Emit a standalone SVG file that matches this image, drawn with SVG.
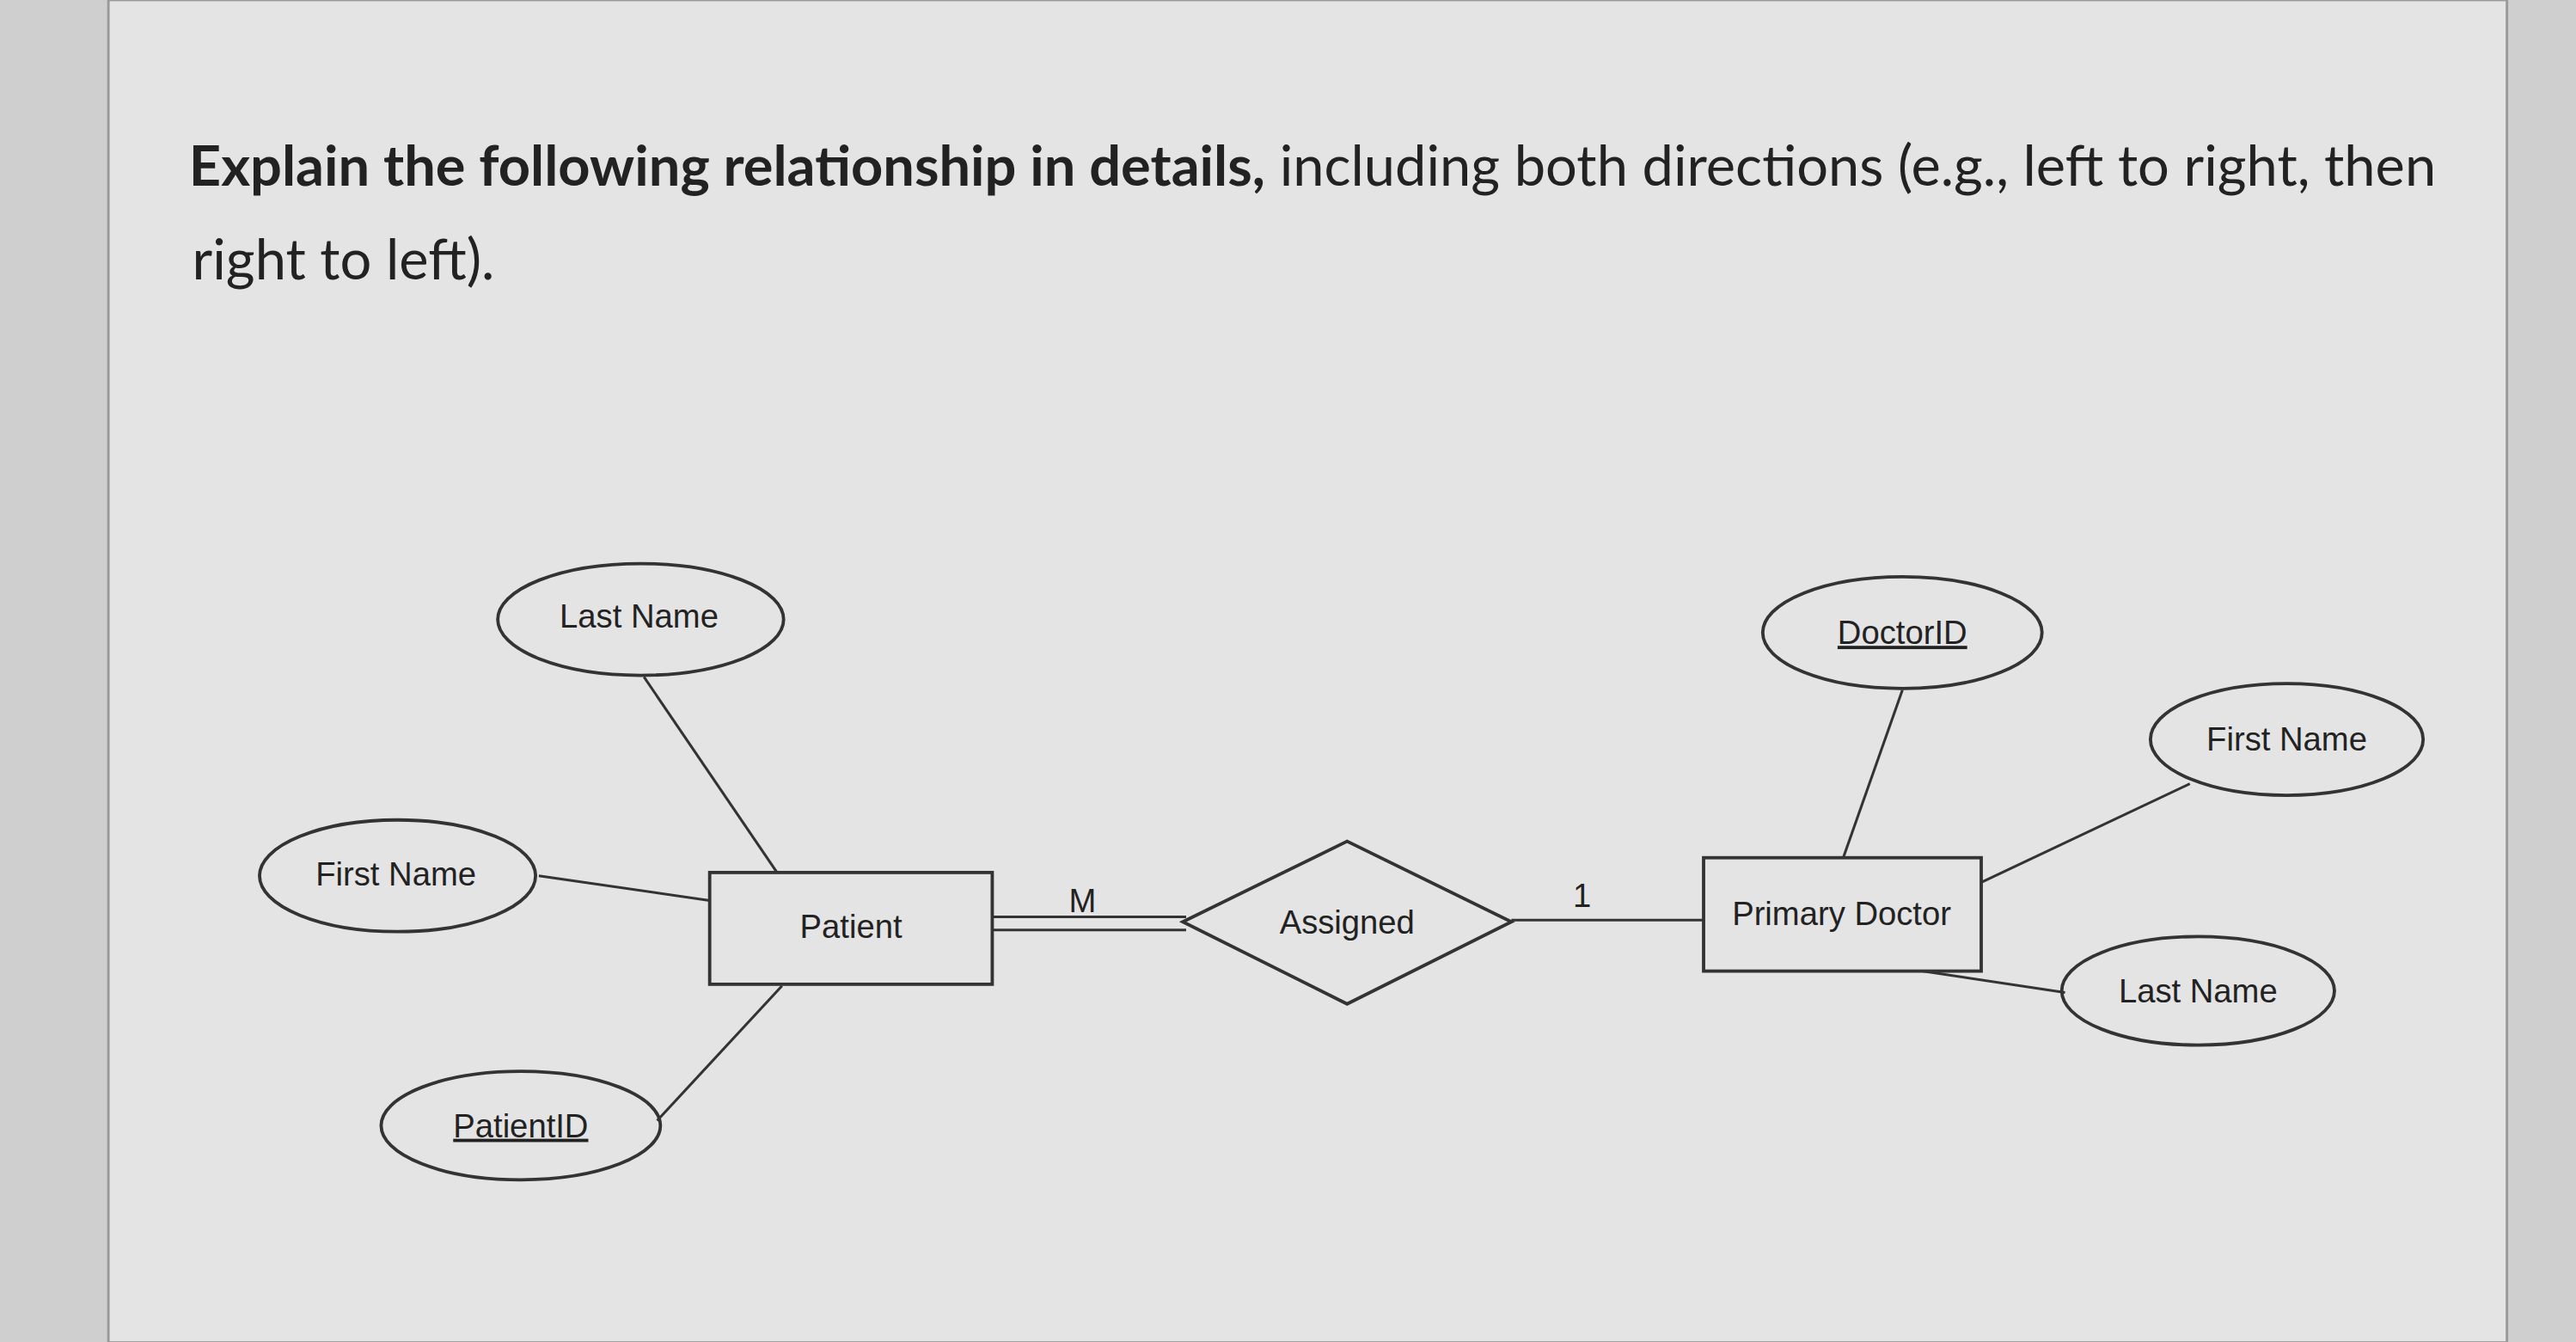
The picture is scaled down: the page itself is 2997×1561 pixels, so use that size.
<svg xmlns="http://www.w3.org/2000/svg" width="2997" height="1561" viewBox="0 0 2997 1561">
<style>
.sh{fill:none;stroke:#333;stroke-width:2}
.ent{fill:none;stroke:#333;stroke-width:2}
.t{font-family:"Liberation Sans",Arial,sans-serif;font-size:20px;fill:#222;text-anchor:middle}
.u{text-decoration:underline}
.h{font-family:Lato,"Open Sans",sans-serif;font-size:34px;fill:#222}
.c{stroke:#333;stroke-width:1.6;fill:none}
</style>
<rect width="2997" height="1561" fill="#cfcfcf"/>
<g transform="scale(1.9113)">
<rect x="66" y="0" width="1460" height="817" fill="#e4e4e4" stroke="#999" stroke-width="1.5"/>
<text class="h" x="115" y="113"><tspan font-weight="bold">Explain the following relationship in details,</tspan> including both directions (e.g., left to right, then</text>
<text class="h" x="117" y="170">right to left).</text>
<g id="connectors">
<line class="c" x1="392" y1="412" x2="473" y2="531"/>
<line class="c" x1="328" y1="533" x2="432" y2="548"/>
<line class="c" x1="400" y1="682" x2="476" y2="600"/>
<line class="c" x1="604" y1="558" x2="722" y2="558"/>
<line class="c" x1="604" y1="566" x2="722" y2="566"/>
<line class="c" x1="920" y1="560" x2="1037" y2="560"/>
<line class="c" x1="1158" y1="420" x2="1122" y2="522"/>
<line class="c" x1="1333" y1="477" x2="1206" y2="537"/>
<line class="c" x1="1257" y1="604" x2="1170" y2="591"/>
<text class="t" x="659" y="555" font-size="19">M</text>
<text class="t" x="963" y="552" font-size="17">1</text>
</g>
<g id="lastname-p"><ellipse class="sh" cx="390" cy="377" rx="87" ry="34"/><text class="t" x="389" y="382">Last Name</text></g>
<g id="firstname-p"><ellipse class="sh" cx="242" cy="533" rx="84" ry="34"/><text class="t" x="241" y="539">First Name</text></g>
<g id="patientid"><ellipse class="sh" cx="317" cy="685" rx="85" ry="33"/><text class="t u" x="317" y="692">PatientID</text></g>
<g id="patient"><rect class="ent" x="432" y="531" width="172" height="68"/><text class="t" x="518" y="571">Patient</text></g>
<g id="assigned"><polygon class="sh" points="720,561 820,512 920,561 820,611"/><text class="t" x="820" y="568">Assigned</text></g>
<g id="doctor"><rect class="ent" x="1037" y="522" width="169" height="69"/><text class="t" x="1121" y="563">Primary Doctor</text></g>
<g id="doctorid"><ellipse class="sh" cx="1158" cy="385" rx="85" ry="34"/><text class="t u" x="1158" y="392">DoctorID</text></g>
<g id="firstname-d"><ellipse class="sh" cx="1392" cy="450" rx="83" ry="34"/><text class="t" x="1392" y="457">First Name</text></g>
<g id="lastname-d"><ellipse class="sh" cx="1338" cy="603" rx="83" ry="33"/><text class="t" x="1338" y="610">Last Name</text></g>
</g>
</svg>
